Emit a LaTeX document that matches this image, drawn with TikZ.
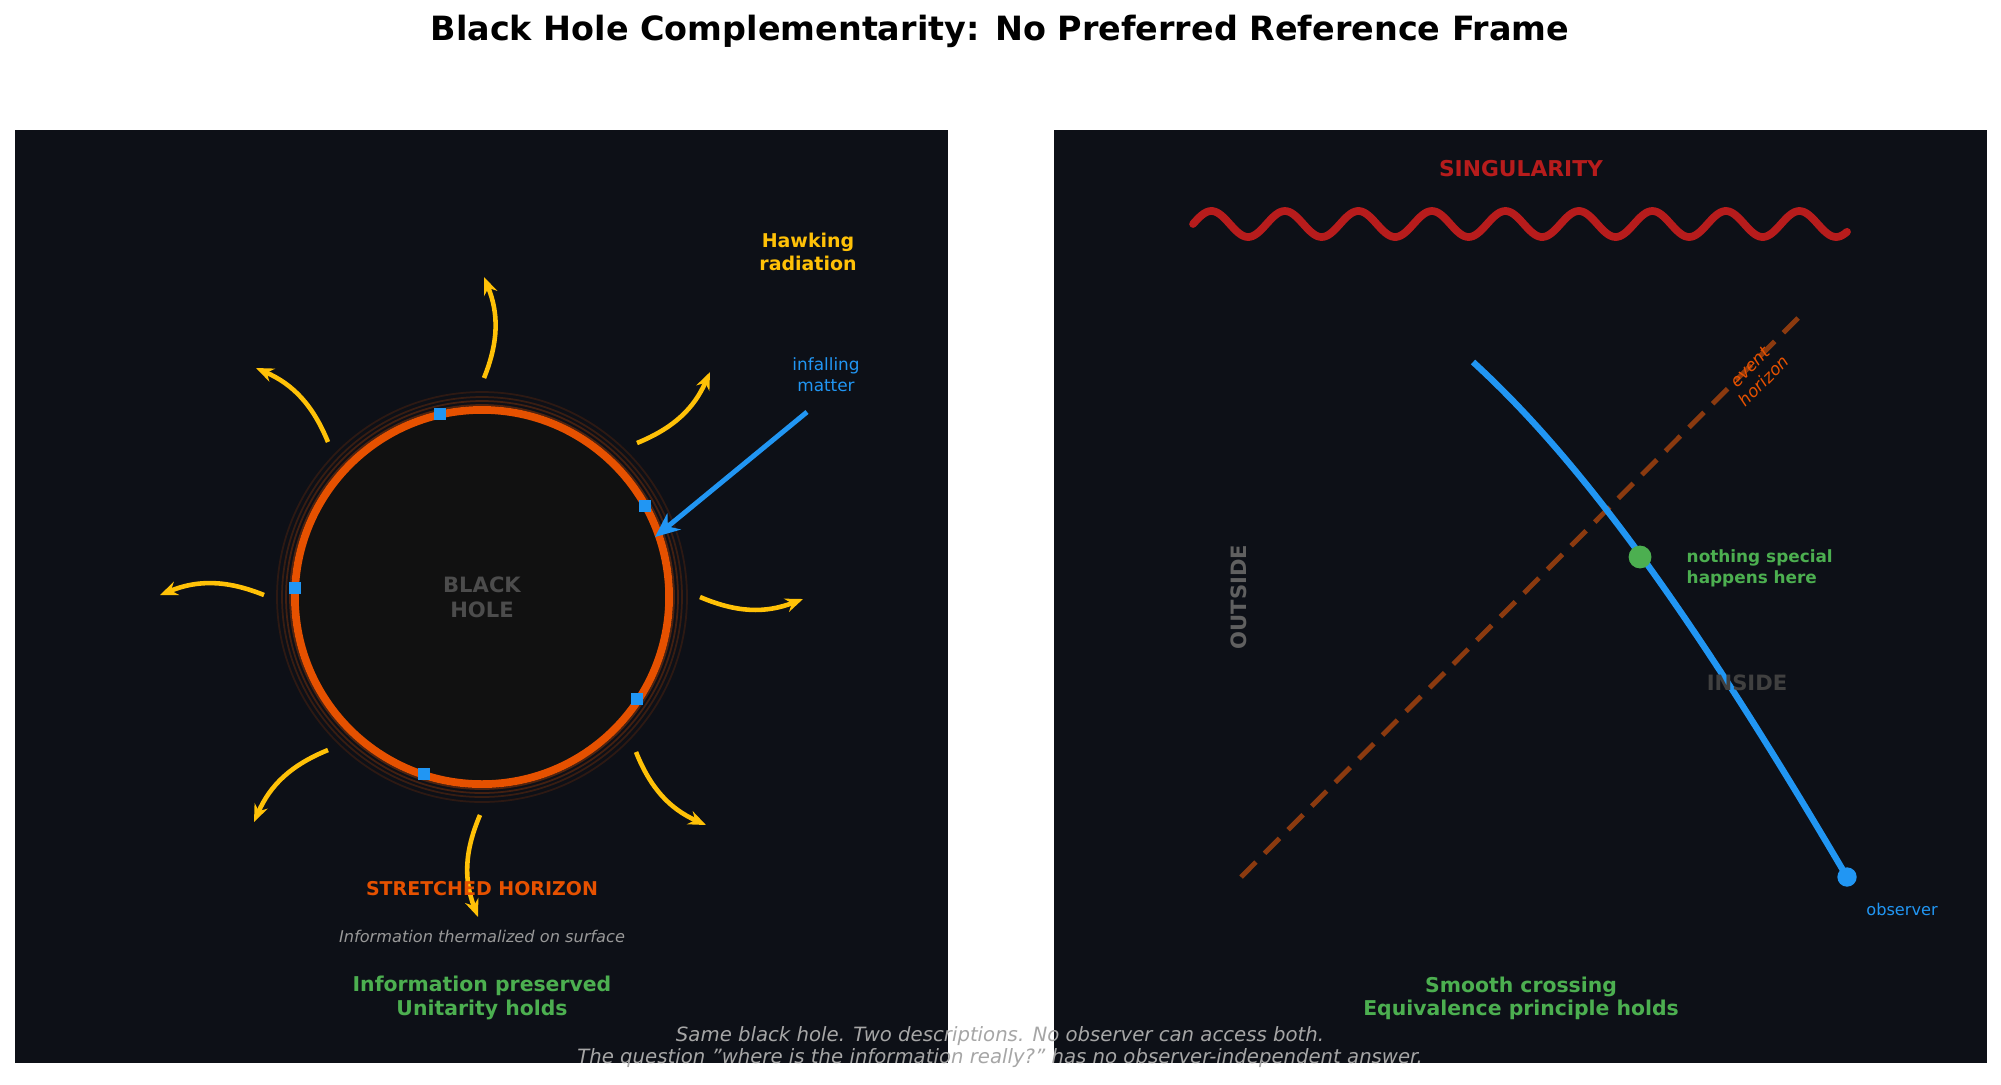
\documentclass[tikz,border=0pt]{standalone}
\usepackage{fontspec}
\setmainfont{DejaVu Sans}
\usetikzlibrary{arrows.meta}
\definecolor{panel}{HTML}{0D1017}
\definecolor{hole}{HTML}{111111}
\definecolor{horange}{HTML}{E65100}
\definecolor{hyellow}{HTML}{FFC107}
\definecolor{hblue}{HTML}{2196F3}
\definecolor{hgreen}{HTML}{4CAF50}
\definecolor{hred}{HTML}{B71C1C}
\definecolor{hbrown}{HTML}{8B3A0F}
\tikzset{
  hawk/.style={hyellow, line width=1.3pt, -{Stealth[length=5pt,width=4pt]}, bend right=22},
  sq/.style={fill=hblue, minimum size=3.4pt, inner sep=0pt},
  lbl/.style={font=\bfseries, align=center, inner sep=0pt}
}
\begin{document}
\begin{tikzpicture}[x=0.01cm,y=-0.01cm]
\useasboundingbox (0,0) rectangle (2001,1084);
\fill[white] (0,0) rectangle (2001,1084);
\node[lbl, font=\bfseries\fontsize{9.5}{11}\selectfont] (title) at (1000,31) {Black Hole Complementarity: No Preferred Reference Frame};
\fill[panel] (15,130) rectangle (948,1063);
\fill[panel] (1054,130) rectangle (1987,1063);
% left panel
\foreach \r/\o in {205/0.15,200/0.2,196/0.25,192/0.3}
  \draw[horange, opacity=\o, line width=0.5pt] (482,597) circle[radius=\r*0.01cm];
\draw[horange, fill=hole, line width=2.2pt] (482,597) circle[radius=1.87cm];
\node[lbl, text=gray!60!black, font=\bfseries\fontsize{6}{7}\selectfont] (bh) at (482,597) {BLACK\\HOLE};
\node[sq] (s1) at (440,414) {};
\node[sq] (s2) at (645,506) {};
\node[sq] (s3) at (295,588) {};
\node[sq] (s4) at (637,699) {};
\node[sq] (s5) at (424,774) {};
\coordinate (a1) at (484,378); \coordinate (b1) at (484,277);
\coordinate (a2) at (637,443); \coordinate (b2) at (710,372);
\coordinate (a3) at (700,597); \coordinate (b3) at (803,599);
\coordinate (a4) at (636,752); \coordinate (b4) at (706,825);
\coordinate (a5) at (480,815); \coordinate (b5) at (478,917);
\coordinate (a6) at (328,750); \coordinate (b6) at (254,822);
\coordinate (a7) at (264,595); \coordinate (b7) at (160,595);
\coordinate (a8) at (328,442); \coordinate (b8) at (256,368);
\foreach \i in {1,...,8} \draw[hawk] (a\i) to (b\i);
\coordinate (im) at (807,412); \coordinate (ie) at (655,537);
\draw[hblue, line width=1.4pt, -{Stealth[length=7pt,width=6pt]}] (im) -- (ie);
\node[lbl, text=hyellow, font=\bfseries\fontsize{5.4}{6.5}\selectfont] (hr) at (808,252) {Hawking\\radiation};
\node[lbl, text=hblue, font=\fontsize{4.8}{6}\selectfont] (inf) at (826,375) {infalling\\matter};
\node[lbl, text=horange, font=\bfseries\fontsize{5.4}{6.5}\selectfont] (sh) at (482,889) {STRETCHED HORIZON};
\node[lbl, text=gray!80, font=\itshape\fontsize{4.6}{6}\selectfont] (it) at (482,936) {Information thermalized on surface};
\node[lbl, text=hgreen, font=\bfseries\fontsize{5.8}{6.6}\selectfont] (ip) at (482,998) {Information preserved\\Unitarity holds};
% right panel
\node[lbl, text=hred, font=\bfseries\fontsize{6.2}{7}\selectfont] (sing) at (1521,169) {SINGULARITY};
\draw[hred, line width=2.2pt, line cap=round] plot[domain=0:654, samples=300, smooth] ({\x+1193},{224-13*sin(\x*4.898)});
\coordinate (h1) at (1241,877); \coordinate (h2) at (1798,318);
\draw[hbrown, line width=1.4pt, dash pattern=on 6pt off 3.5pt] (h1) -- (h2);
\node[text=horange, rotate=45, align=center, inner sep=0pt, font=\itshape\fontsize{4.8}{5.6}\selectfont] (ehl) at (1757,374) {event\\horizon};
\coordinate (w0) at (1473,362);
\coordinate (w1) at (1847,877);
\draw[hblue, line width=1.8pt] (w0) .. controls (1580,460) and (1690,610) .. (w1);
\node[circle, fill=hgreen, minimum size=6.5pt, inner sep=0pt] (cross) at (1640,557) {};
\node[circle, fill=hblue, minimum size=5.5pt, inner sep=0pt] (obs) at (w1) {};
\node[text=hgreen, align=left, anchor=west, inner sep=0pt, font=\bfseries\fontsize{4.8}{6}\selectfont] (ns) at (1686,568) {nothing special\\happens here};
\node[lbl, text=gray!75!black, rotate=90, font=\bfseries\fontsize{6}{7}\selectfont] (out) at (1239,597) {OUTSIDE};
\node[lbl, text=gray!50!black, font=\bfseries\fontsize{6}{7}\selectfont] (ins) at (1747,683) {INSIDE};
\node[text=hblue, inner sep=0pt, font=\fontsize{4.6}{6}\selectfont] (ol) at (1902,909) {observer};
\node[lbl, text=hgreen, font=\bfseries\fontsize{5.8}{6.6}\selectfont] (sc) at (1521,998) {Smooth crossing\\Equivalence principle holds};
\node[lbl, text=gray!70, font=\itshape\fontsize{5.6}{6.5}\selectfont] (cap) at (1000,1047) {Same black hole. Two descriptions. No observer can access both.\\The question \symbol{34}where is the information really?\symbol{34} has no observer-independent answer.};
\end{tikzpicture}
\end{document}
